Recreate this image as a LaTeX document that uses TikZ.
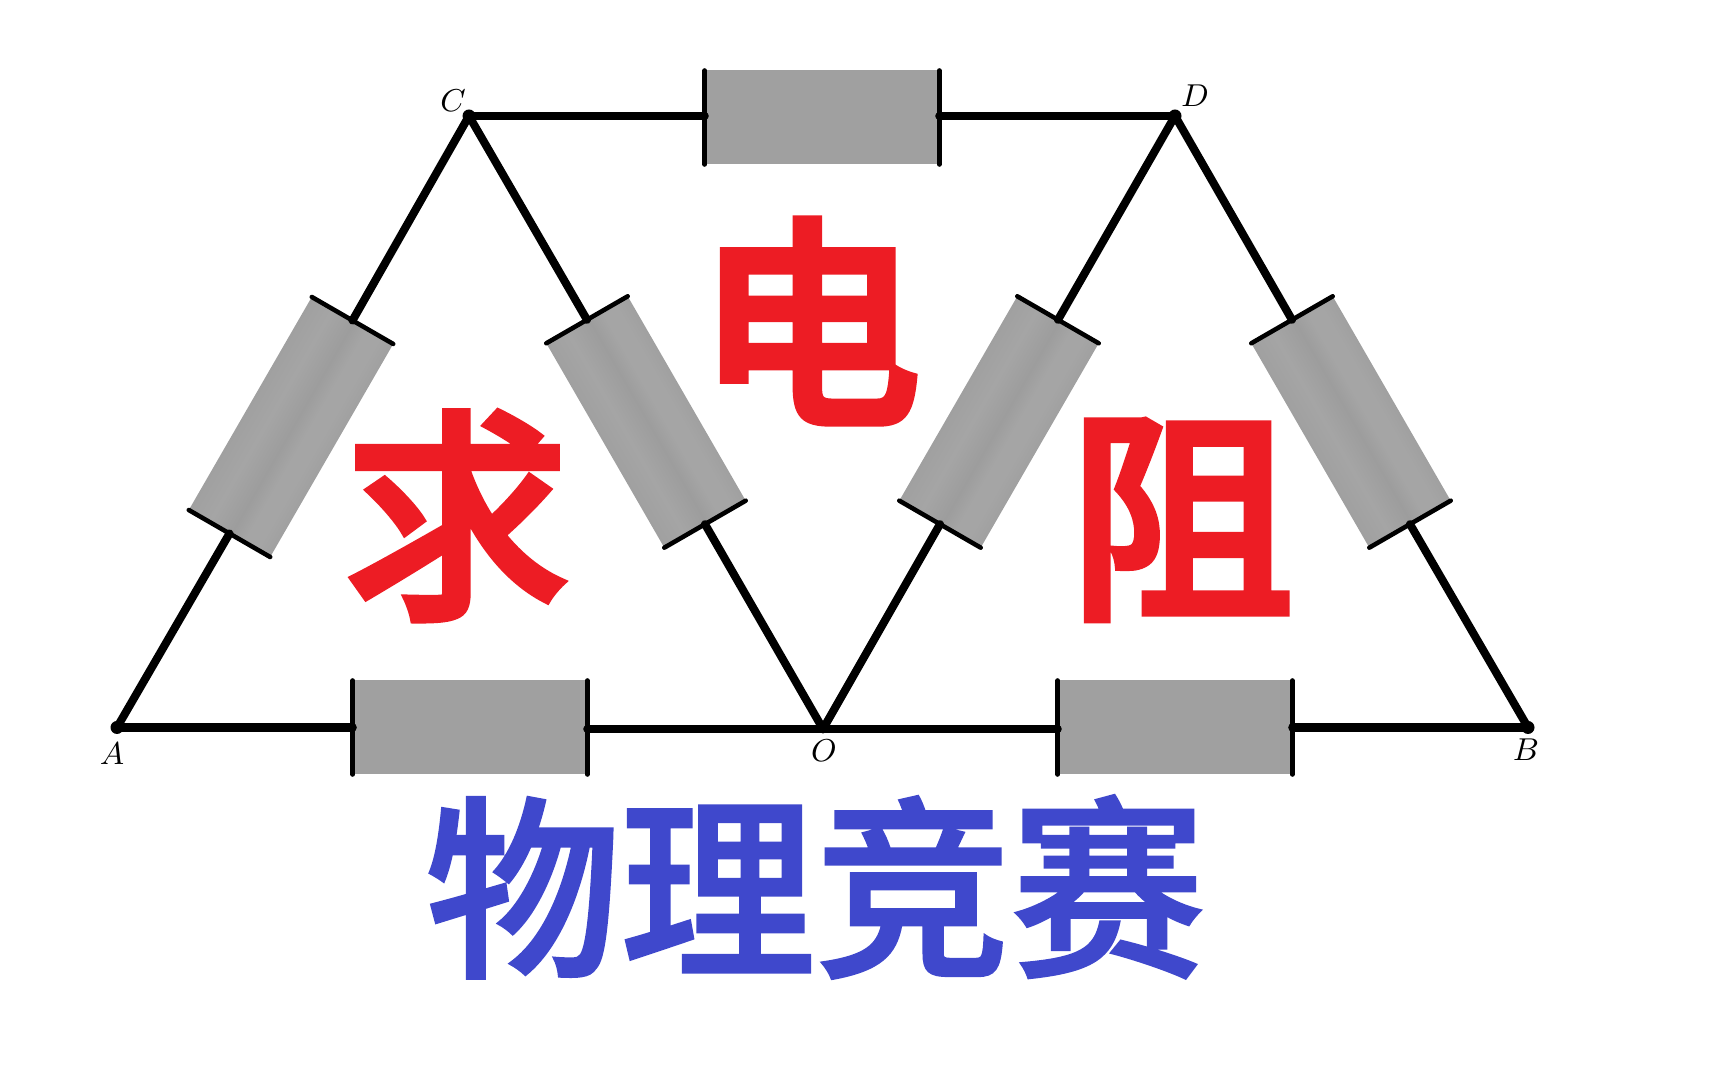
\documentclass[tikz,border=0pt]{standalone}
\usepackage{fontspec}
\newfontfamily\cjkred{Noto Sans CJK SC Medium}[FakeBold=3]
\newfontfamily\cjkblue{Noto Sans CJK SC Medium}[FakeBold=1.5]
\definecolor{resgray}{HTML}{A0A0A0}
\definecolor{reslight}{HTML}{A5A5A5}
\definecolor{resdark}{HTML}{9D9D9D}
\definecolor{labelred}{HTML}{ED1C24}
\definecolor{labelblue}{HTML}{3F48CC}
\pgfdeclareverticalshading{resband}{100bp}{color(0bp)=(resgray); color(25bp)=(resgray); color(33bp)=(reslight); color(41bp)=(reslight); color(49bp)=(resdark); color(62bp)=(reslight); color(75bp)=(resgray); color(100bp)=(resgray)}
\tikzset{
  resflat/.style={fill=resgray, minimum width=2.345cm, minimum height=0.94cm, inner sep=0pt, outer sep=0pt},
  resbox/.style={minimum width=2.36cm, minimum height=0.94cm, inner sep=0pt, outer sep=0pt},
  endbar/.style={line width=1.3pt, line cap=round},
  wire/.style={line width=2.3pt, line cap=round},
  dot/.style={circle, fill=black, inner sep=0pt, minimum size=0.13cm},
  vertex/.style={inner sep=0pt, font=\fontsize{8.8}{10}\selectfont},
  bigred/.style={inner sep=0pt, text=labelred, font=\cjkred\fontsize{64}{64}\selectfont},
  bigblue/.style={inner sep=0pt, text=labelblue, font=\cjkblue\fontsize{55.5}{55.5}\selectfont}
}
\begin{document}
\begin{tikzpicture}
\useasboundingbox (0,0) rectangle (17.28,10.8);

% Resistors
\node[resflat] (Rtop) at (8.22,9.625) {};
\node[resflat] (Rleft) at (4.70,3.525) {};
\node[resflat] (Rright) at (11.75,3.525) {};
\node[resbox, rotate=60, minimum width=2.46cm] (Rac) at (2.91,6.53) {};
\node[resbox, rotate=-60] (Rco) at (6.46,6.58) {};
\node[resbox, rotate=60] (Rod) at (9.99,6.58) {};
\node[resbox, rotate=-60] (Rdb) at (13.51,6.58) {};

% Shaded bodies of the slanted ones
\foreach \res/\ang/\half in {Rac/60/1.23,Rco/120/1.18,Rod/60/1.18,Rdb/120/1.18}{
  \begin{scope}[transform canvas={shift={(\res.center)},rotate=\ang}]
    \shade[shading=resband] (-\half,-0.47) rectangle (\half,0.47);
  \end{scope}
}

% Bars at the ends of the resistors
\foreach \res in {Rtop,Rleft,Rright,Rac,Rco,Rod,Rdb}{
  \draw[endbar] (\res.north west) -- (\res.south west);
  \draw[endbar] (\res.north east) -- (\res.south east);
}

% Vertices
\node[dot] (A) at (1.17,3.525) {};
\node[dot, minimum size=0.09cm] (O) at (8.23,3.51) {};
\node[dot] (B) at (15.28,3.525) {};
\node[dot] (C) at (4.69,9.64) {};
\node[dot] (D) at (11.75,9.64) {};

% Wires
\draw[wire] (A.center) -- (Rleft.west |- A);
\draw[wire] (Rleft.east |- O) -- (O.center);
\draw[wire] (O.center) -- (Rright.west |- O);
\draw[wire] (Rright.east |- B) -- (B.center);
\draw[wire] (C.center) -- (Rtop.west |- C);
\draw[wire] (Rtop.east |- D) -- (D.center);
\draw[wire] (A.center) -- (Rac.west);
\draw[wire] (Rac.east) -- (C.center);
\draw[wire] (C.center) -- (Rco.west);
\draw[wire] (Rco.east) -- (O.center);
\draw[wire] (O.center) -- (Rod.west);
\draw[wire] (Rod.east) -- (D.center);
\draw[wire] (D.center) -- (Rdb.west);
\draw[wire] (Rdb.east) -- (B.center);

% Vertex labels
\node[vertex] (labelA) at (1.12,3.265) {$A$};
\node[vertex] (labelO) at (8.24,3.29) {$O$};
\node[vertex] (labelB) at (15.26,3.305) {$B$};
\node[vertex] (labelC) at (4.53,9.79) {$C$};
\node[vertex] (labelD) at (11.95,9.84) {$D$};

% Big texts
\node[bigred] (qiu) at (4.57,5.64) {求};
\node[bigred] (dian) at (8.09,7.59) {电};
\node[bigred] (zu) at (11.815,5.60) {阻};
\node[bigblue] (title) at (8.155,1.93) {物理竞赛};
\end{tikzpicture}
\end{document}
